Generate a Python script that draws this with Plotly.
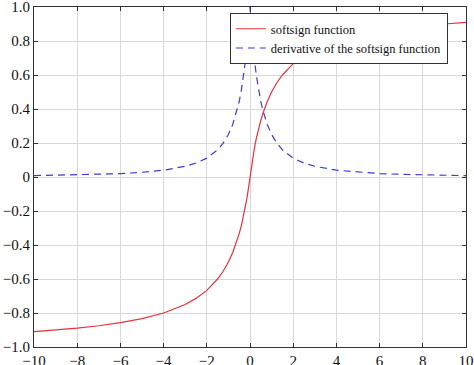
import plotly.graph_objects as go

x_vals = [-10, -9, -8, -7, -6, -5, -4, -3, -2.5, -2, -1.5, -1.25, -1, -0.8, -0.6, -0.5, -0.4, -0.3, -0.2,
          -0.15, -0.1, -0.05, 0,
          0.05, 0.1, 0.15, 0.2, 0.3, 0.4, 0.5, 0.6, 0.8, 1, 1.25, 1.5, 2, 2.5, 3, 4, 5, 6, 7, 8, 9, 10]
softsign = [-0.909, -0.900, -0.889, -0.875, -0.857, -0.833, -0.800, -0.750, -0.714, -0.667, -0.600, -0.556,
            -0.500, -0.444, -0.375, -0.333, -0.286, -0.231, -0.167, -0.130, -0.091, -0.048, 0.0,
            0.048, 0.091, 0.130, 0.167, 0.231, 0.286, 0.333, 0.375, 0.444, 0.500, 0.556, 0.600, 0.667,
            0.714, 0.750, 0.800, 0.833, 0.857, 0.875, 0.889, 0.900, 0.909]
derivative = [0.008, 0.010, 0.012, 0.016, 0.020, 0.028, 0.040, 0.063, 0.082, 0.111, 0.160, 0.198,
              0.250, 0.309, 0.391, 0.444, 0.510, 0.592, 0.694, 0.756, 0.826, 0.907, 1.0,
              0.907, 0.826, 0.756, 0.694, 0.592, 0.510, 0.444, 0.391, 0.309, 0.250, 0.198, 0.160, 0.111,
              0.082, 0.063, 0.040, 0.028, 0.020, 0.016, 0.012, 0.010, 0.008]

x_ticks = [-10, -8, -6, -4, -2, 0, 2, 4, 6, 8, 10]
x_tick_text = ["\u221210", "\u22128", "\u22126", "\u22124", "\u22122", "0", "2", "4", "6", "8", "10"]
y_ticks = [-1.0, -0.8, -0.6, -0.4, -0.2, 0, 0.2, 0.4, 0.6, 0.8, 1.0]
y_tick_text = ["\u22121.0", "\u22120.8", "\u22120.6", "\u22120.4", "\u22120.2", "0", "0.2", "0.4", "0.6", "0.8", "1.0"]

serif = "Liberation Serif"

fig = go.Figure()
fig.add_trace(go.Scatter(x=x_vals, y=softsign, mode="lines", name="softsign function",
                         line=dict(color="#e8313a", width=1.2)))
fig.add_trace(go.Scatter(x=x_vals, y=derivative, mode="lines", name="derivative of the softsign function",
                         line=dict(color="#3b3bd6", width=1.2, dash="7px,5px")))

axis_common = dict(showgrid=True, gridcolor="#d9d9d9", gridwidth=1, zeroline=False,
                   showline=True, linecolor="#333333", linewidth=1, mirror="ticks",
                   ticks="inside", ticklen=4, tickcolor="#333333", ticklabeloverflow="allow",
                   tickfont=dict(family=serif, size=15, color="#111111"))

fig.update_xaxes(range=[-10, 10], tickvals=x_ticks, ticktext=x_tick_text, **axis_common)
fig.update_yaxes(range=[-1, 1], tickvals=y_ticks, ticktext=y_tick_text, **axis_common)

fig.update_layout(
    width=474, height=365,
    margin=dict(l=34, r=8, t=7, b=18, autoexpand=False),
    plot_bgcolor="white", paper_bgcolor="white",
    font=dict(family=serif, size=13, color="#111111"),
    legend=dict(x=0.958, y=0.982, xanchor="right", yanchor="top",
                bgcolor="white", bordercolor="#333333", borderwidth=1,
                font=dict(family=serif, size=12.5), tracegroupgap=0),
    showlegend=True,
)

fig.write_html("out.html", config={"displayModeBar": False},
               post_script="document.body.style.margin='0';document.body.style.padding='0';")
